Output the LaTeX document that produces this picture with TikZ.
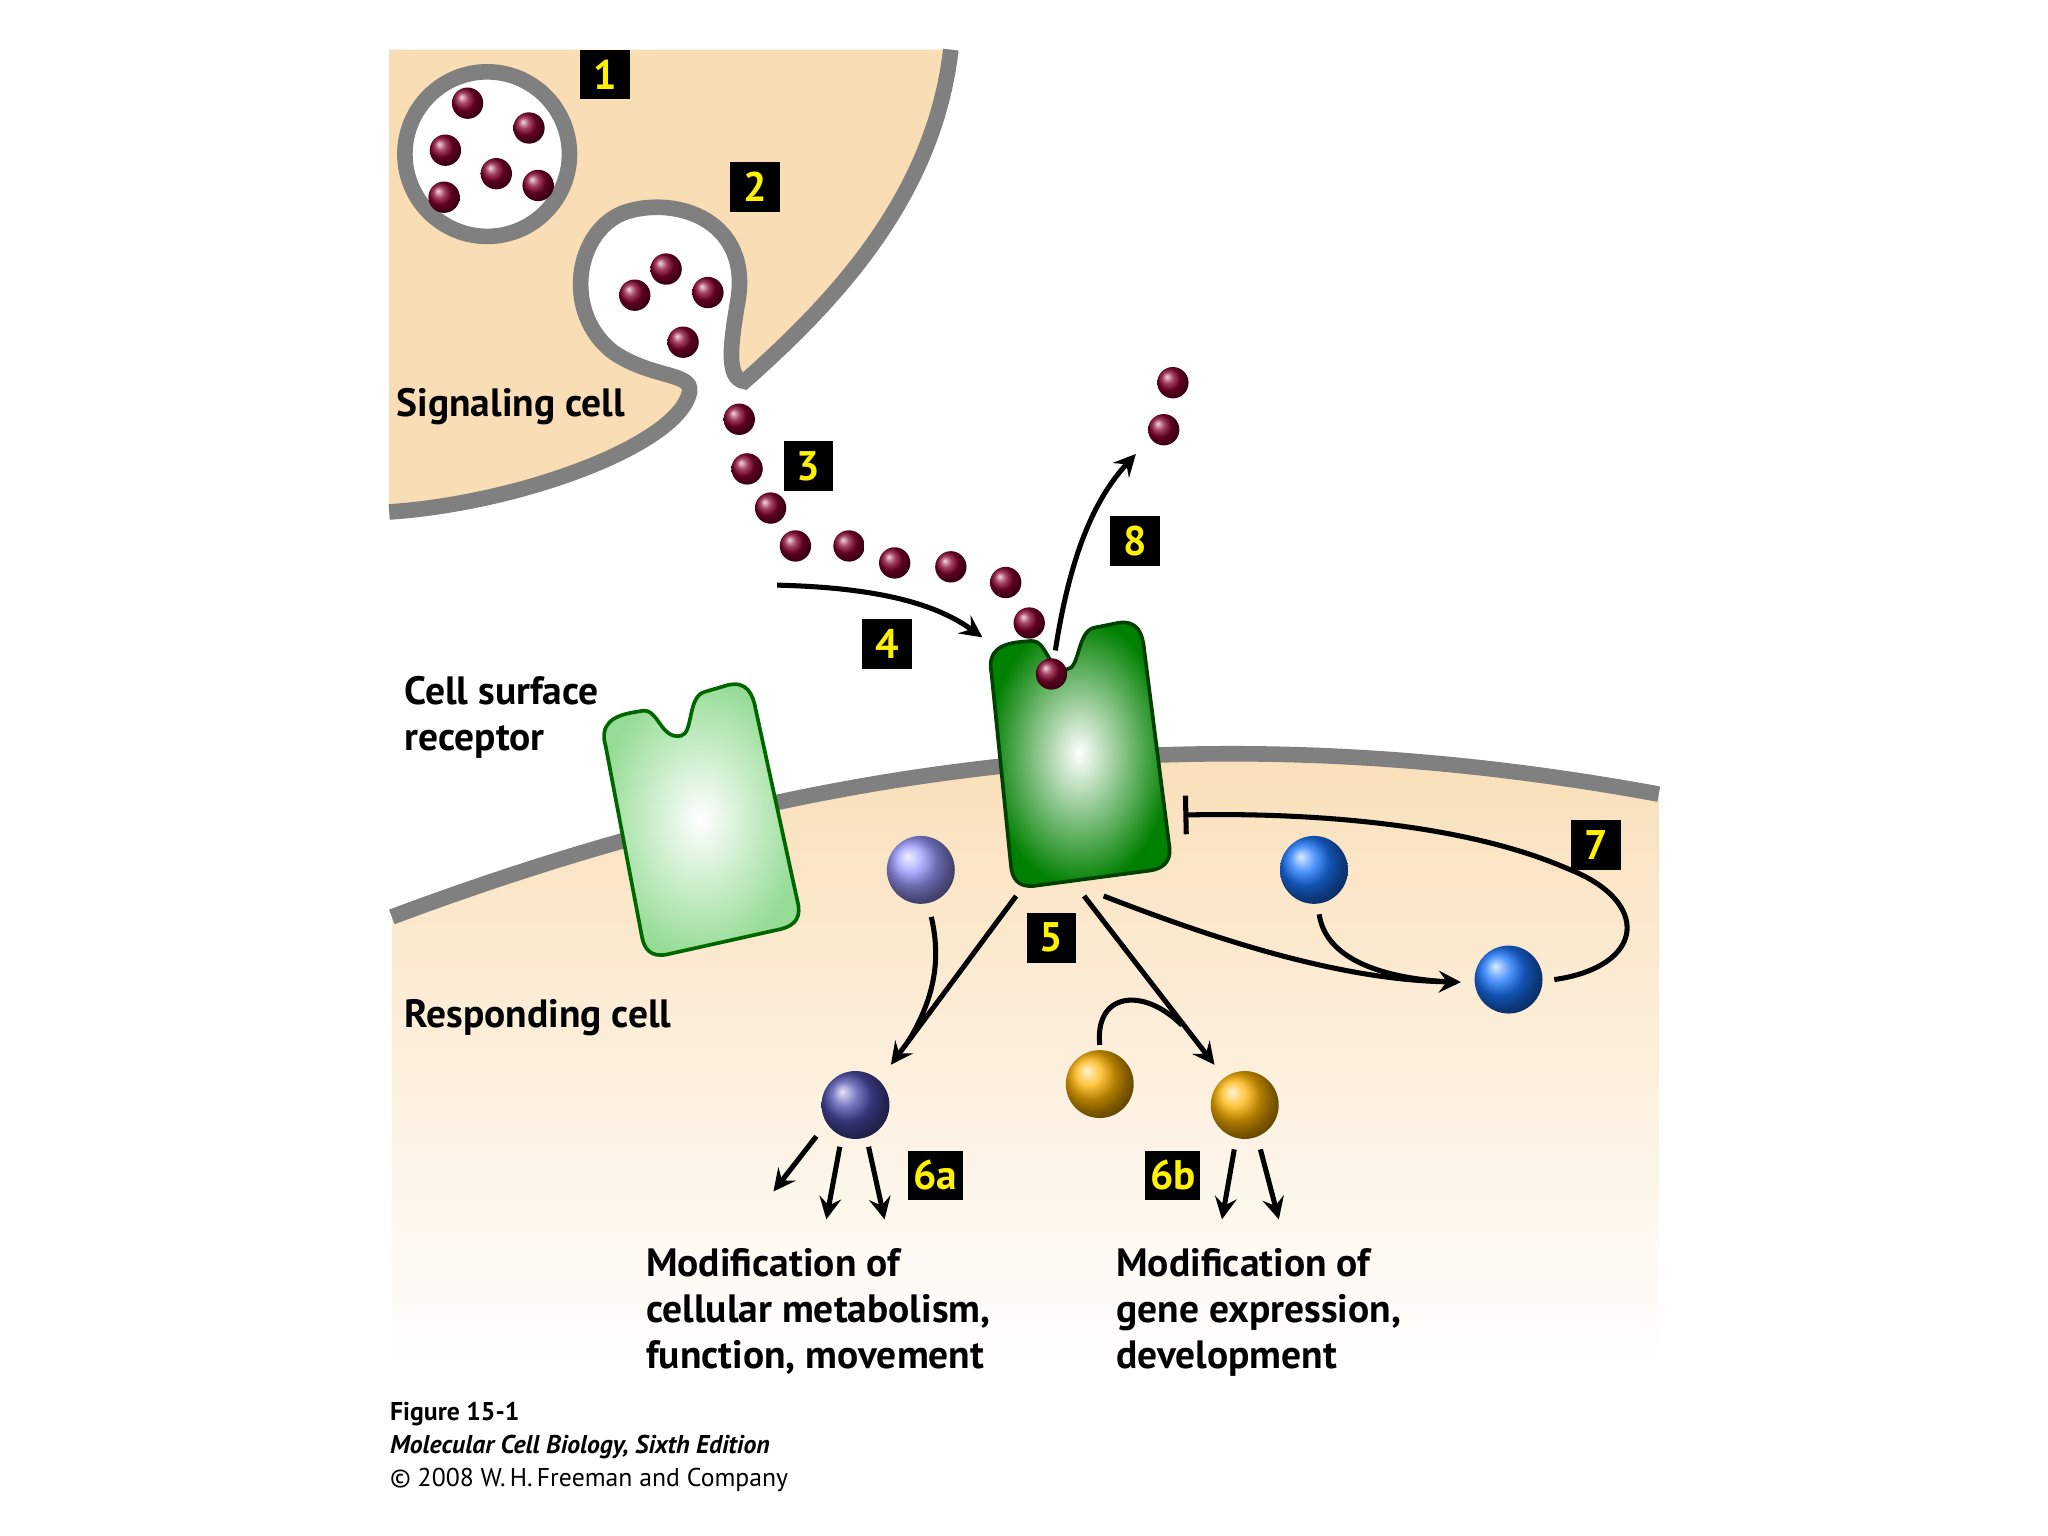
\documentclass[tikz,border=0pt]{standalone}
\usepackage{fontspec}
\setmainfont{PT Sans}
\begin{document}
\begin{tikzpicture}[x=0.01cm,y=-0.01cm,
  mem/.style={draw=gray!75!black!80,line width=3.4pt},
  lig/.style={ball color=purple!70!black},
  arr/.style={-stealth,line width=1.1pt,shorten >=1pt},
  num/.style={fill=black,text=yellow,font=\bfseries\fontsize{9}{9}\selectfont,minimum width=0.38cm,minimum height=0.38cm,inner sep=0pt},
  lab/.style={font=\bfseries\fontsize{8.6}{10}\selectfont,align=left,anchor=west,inner sep=0pt},
  capt/.style={font=\fontsize{5.6}{7}\selectfont,anchor=west,inner sep=0pt}]
\useasboundingbox (0,0) rectangle (1568,1176);
\definecolor{tan}{HTML}{F9DDB4}
\def\receptor{(-60,-70) .. controls (-62,-88) and (-50,-92) .. (-35,-92) -- (-28,-92) .. controls (-15,-92) and (-18,-68) .. (-2,-68) .. controls (8,-68) and (8,-97) .. (22,-98) -- (40,-100) .. controls (55,-101) and (58,-90) .. (58,-78) -- (64,72) .. controls (65,84) and (60,90) .. (48,91) -- (-42,95) .. controls (-54,95) and (-58,88) .. (-58,78) -- cycle}
% responding cell
\shade[top color=tan,bottom color=white] (300,700) .. controls (600,590) and (900,540) .. (1270,608) -- (1270,1050) -- (300,1050) -- cycle;
\draw[mem] (300,702) .. controls (600,590) and (900,540) .. (1270,608);
% signaling cell
\fill[tan] (298,38) -- (728,38) .. controls (715,150) and (640,230) .. (570,292) .. controls (555,290) and (560,260) .. (565,230) .. controls (575,170) and (520,150) .. (480,162) .. controls (440,175) and (430,240) .. (470,270) .. controls (500,290) and (530,285) .. (528,300) .. controls (520,340) and (400,385) .. (298,392) -- cycle;
\draw[mem] (728,38) .. controls (715,150) and (640,230) .. (570,292) .. controls (555,290) and (560,260) .. (565,230) .. controls (575,170) and (520,150) .. (480,162) .. controls (440,175) and (430,240) .. (470,270) .. controls (500,290) and (530,285) .. (528,300) .. controls (520,340) and (400,385) .. (298,392);
\draw[mem,fill=white] (373,118) circle[radius=63];
% ligands
\foreach \p in {(358,79),(405,98),(341,115),(380,133),(412,142),(340,151),(510,206),(486,226),(542,224),(523,262),(566,321),(572,359),(590,389),(609,418),(650,418),(685,431),(728,434),(770,446),(788,477),(898,293),(891,329)}
  \shade[lig] \p circle[radius=12];
% receptors
\begin{scope}[shift={(535,630)},rotate=10]
\shade[draw=green!40!black,thick,inner color=white,outer color=green!50!gray!55!white] \receptor;
\end{scope}
\begin{scope}[shift={(825,580)},rotate=5]
\shade[draw=green!25!black,thick,inner color=white,outer color=green!50!black] \receptor;
\end{scope}
\shade[lig] (805,516) circle[radius=12];
% other balls
\shade[ball color=blue!40!white] (705,666) circle[radius=26];
\shade[ball color=blue!60!cyan!90!white] (1006,666) circle[radius=26];
\shade[ball color=blue!60!cyan!90!white] (1155,750) circle[radius=26];
\shade[ball color=blue!55!black!70!white] (655,846) circle[radius=26];
\shade[ball color=orange!60!yellow] (842,830) circle[radius=26];
\shade[ball color=orange!60!yellow] (953,846) circle[radius=26];
% arrows
\draw[arr] (595,448) .. controls (680,450) and (720,465) .. (755,490);
\draw[arr] (808,498) .. controls (820,420) and (840,380) .. (872,345);
\draw[arr] (778,686) -- (680,818);
\draw[arr] (830,686) -- (932,818);
\draw[arr] (845,686) .. controls (920,715) and (1020,750) .. (1122,752);
\draw[line width=1.1pt] (713,702) .. controls (722,740) and (712,770) .. (695,798);
\draw[line width=1.1pt] (1010,700) .. controls (1015,735) and (1060,750) .. (1115,752);
\draw[line width=1.1pt] (842,800) .. controls (838,760) and (875,755) .. (905,785);
\draw[line width=1.1pt,-|] (1190,750) .. controls (1260,740) and (1265,690) .. (1200,665) .. controls (1120,630) and (1000,622) .. (906,624);
\draw[arr] (625,870) -- (590,915);
\draw[arr] (643,878) -- (632,937);
\draw[arr] (665,878) -- (678,937);
\draw[arr] (945,880) -- (935,937);
\draw[arr] (965,880) -- (980,937);
% number labels
\node[num] (n1) at (463,57) {1};
\node[num] (n2) at (578,143) {2};
\node[num] (n3) at (619,357) {3};
\node[num] (n4) at (679,493) {4};
\node[num] (n8) at (869,414) {8};
\node[num] (n5) at (805,718) {5};
\node[num] (n7) at (1222,647) {7};
\node[num,minimum width=0.42cm] (n6a) at (716,900) {6a};
\node[num,minimum width=0.42cm] (n6b) at (898,900) {6b};
% text
\node[lab] (t1) at (303,311) {Signaling cell};
\node[lab] (t2) at (309,549) {Cell surface\\receptor};
\node[lab] (t3) at (309,779) {Responding cell};
\node[lab,anchor=north west] (t4) at (494,955) {Modification of\\cellular metabolism,\\function, movement};
\node[lab,anchor=north west] (t5) at (854,955) {Modification of\\gene expression,\\development};
\node[capt,font=\bfseries\fontsize{5.6}{7}\selectfont] (c1) at (298,1083) {Figure 15-1};
\node[capt,font=\bfseries\itshape\fontsize{5.6}{7}\selectfont] (c2) at (298,1108) {Molecular Cell Biology, Sixth Edition};
\node[capt] (c3) at (298,1133) {© 2008 W.\,H.\,Freeman and Company};
\end{tikzpicture}
\end{document}
